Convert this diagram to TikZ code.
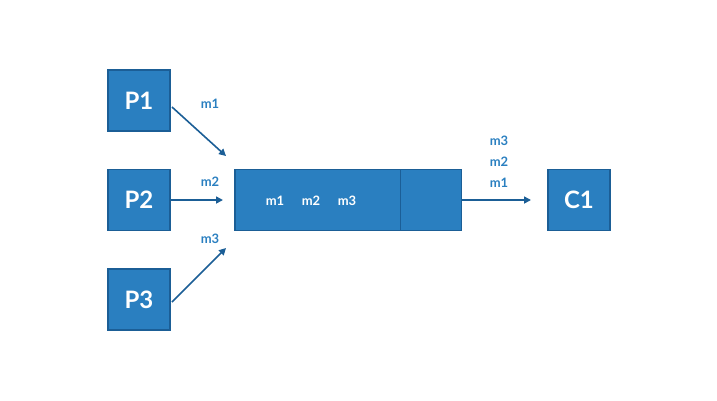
\documentclass[tikz,border=0pt]{standalone}
\usepackage{fontspec}
\setmainfont{Lato}
\usetikzlibrary{arrows.meta}
\definecolor{fillb}{HTML}{2A7FC0}
\definecolor{edgeb}{HTML}{1B5E96}
\definecolor{txtb}{HTML}{2A7FC0}
\begin{document}
\begin{tikzpicture}[x=1pt,y=-1pt,
  box/.style={draw=edgeb,line width=1.2pt,fill=fillb,minimum width=62pt,minimum height=61pt,text=white,font=\bfseries\fontsize{24}{24}\selectfont,inner sep=0},
  lab/.style={text=txtb,font=\bfseries\fontsize{13}{13}\selectfont,inner sep=0},
  qlab/.style={text=white,font=\bfseries\fontsize{13}{13}\selectfont,inner sep=0},
  arr/.style={draw=edgeb,line width=1.6pt,-{Triangle[length=7pt,width=7pt]}}]
\useasboundingbox (0,0) rectangle (717,400);
\node[box] (p1) at (139,100.5) {P1};
\node[box] (p2) at (139,200) {P2};
\node[box] (p3) at (139,299.5) {P3};
\node[box] (c1) at (579,200) {C1};
\node[draw=edgeb,line width=1.2pt,fill=fillb,minimum width=166pt,minimum height=61pt,inner sep=0] (q) at (318,200) {};
\node[draw=edgeb,line width=1.2pt,fill=fillb,minimum width=61pt,minimum height=61pt,inner sep=0] (q2) at (431,200) {};
\coordinate (t1) at (226,156);
\coordinate (t2) at (223,200);
\coordinate (t3) at (226,248);
\coordinate (t4) at (531,200);
\draw[arr] (172,107) -- (t1);
\draw[arr] (p2.east) -- (t2);
\draw[arr] (172,302) -- (t3);
\draw[arr] (q2.east) -- (t4);
\node[lab] (l1) at (210,104) {m1};
\node[lab] (l2) at (210,182) {m2};
\node[lab] (l3) at (210,239) {m3};
\node[lab] (r3) at (499,141) {m3};
\node[lab] (r2) at (499,162) {m2};
\node[lab] (r1) at (499,183) {m1};
\node[qlab] (a1) at (275,201) {m1};
\node[qlab] (a2) at (311,201) {m2};
\node[qlab] (a3) at (347,201) {m3};
\end{tikzpicture}
\end{document}
